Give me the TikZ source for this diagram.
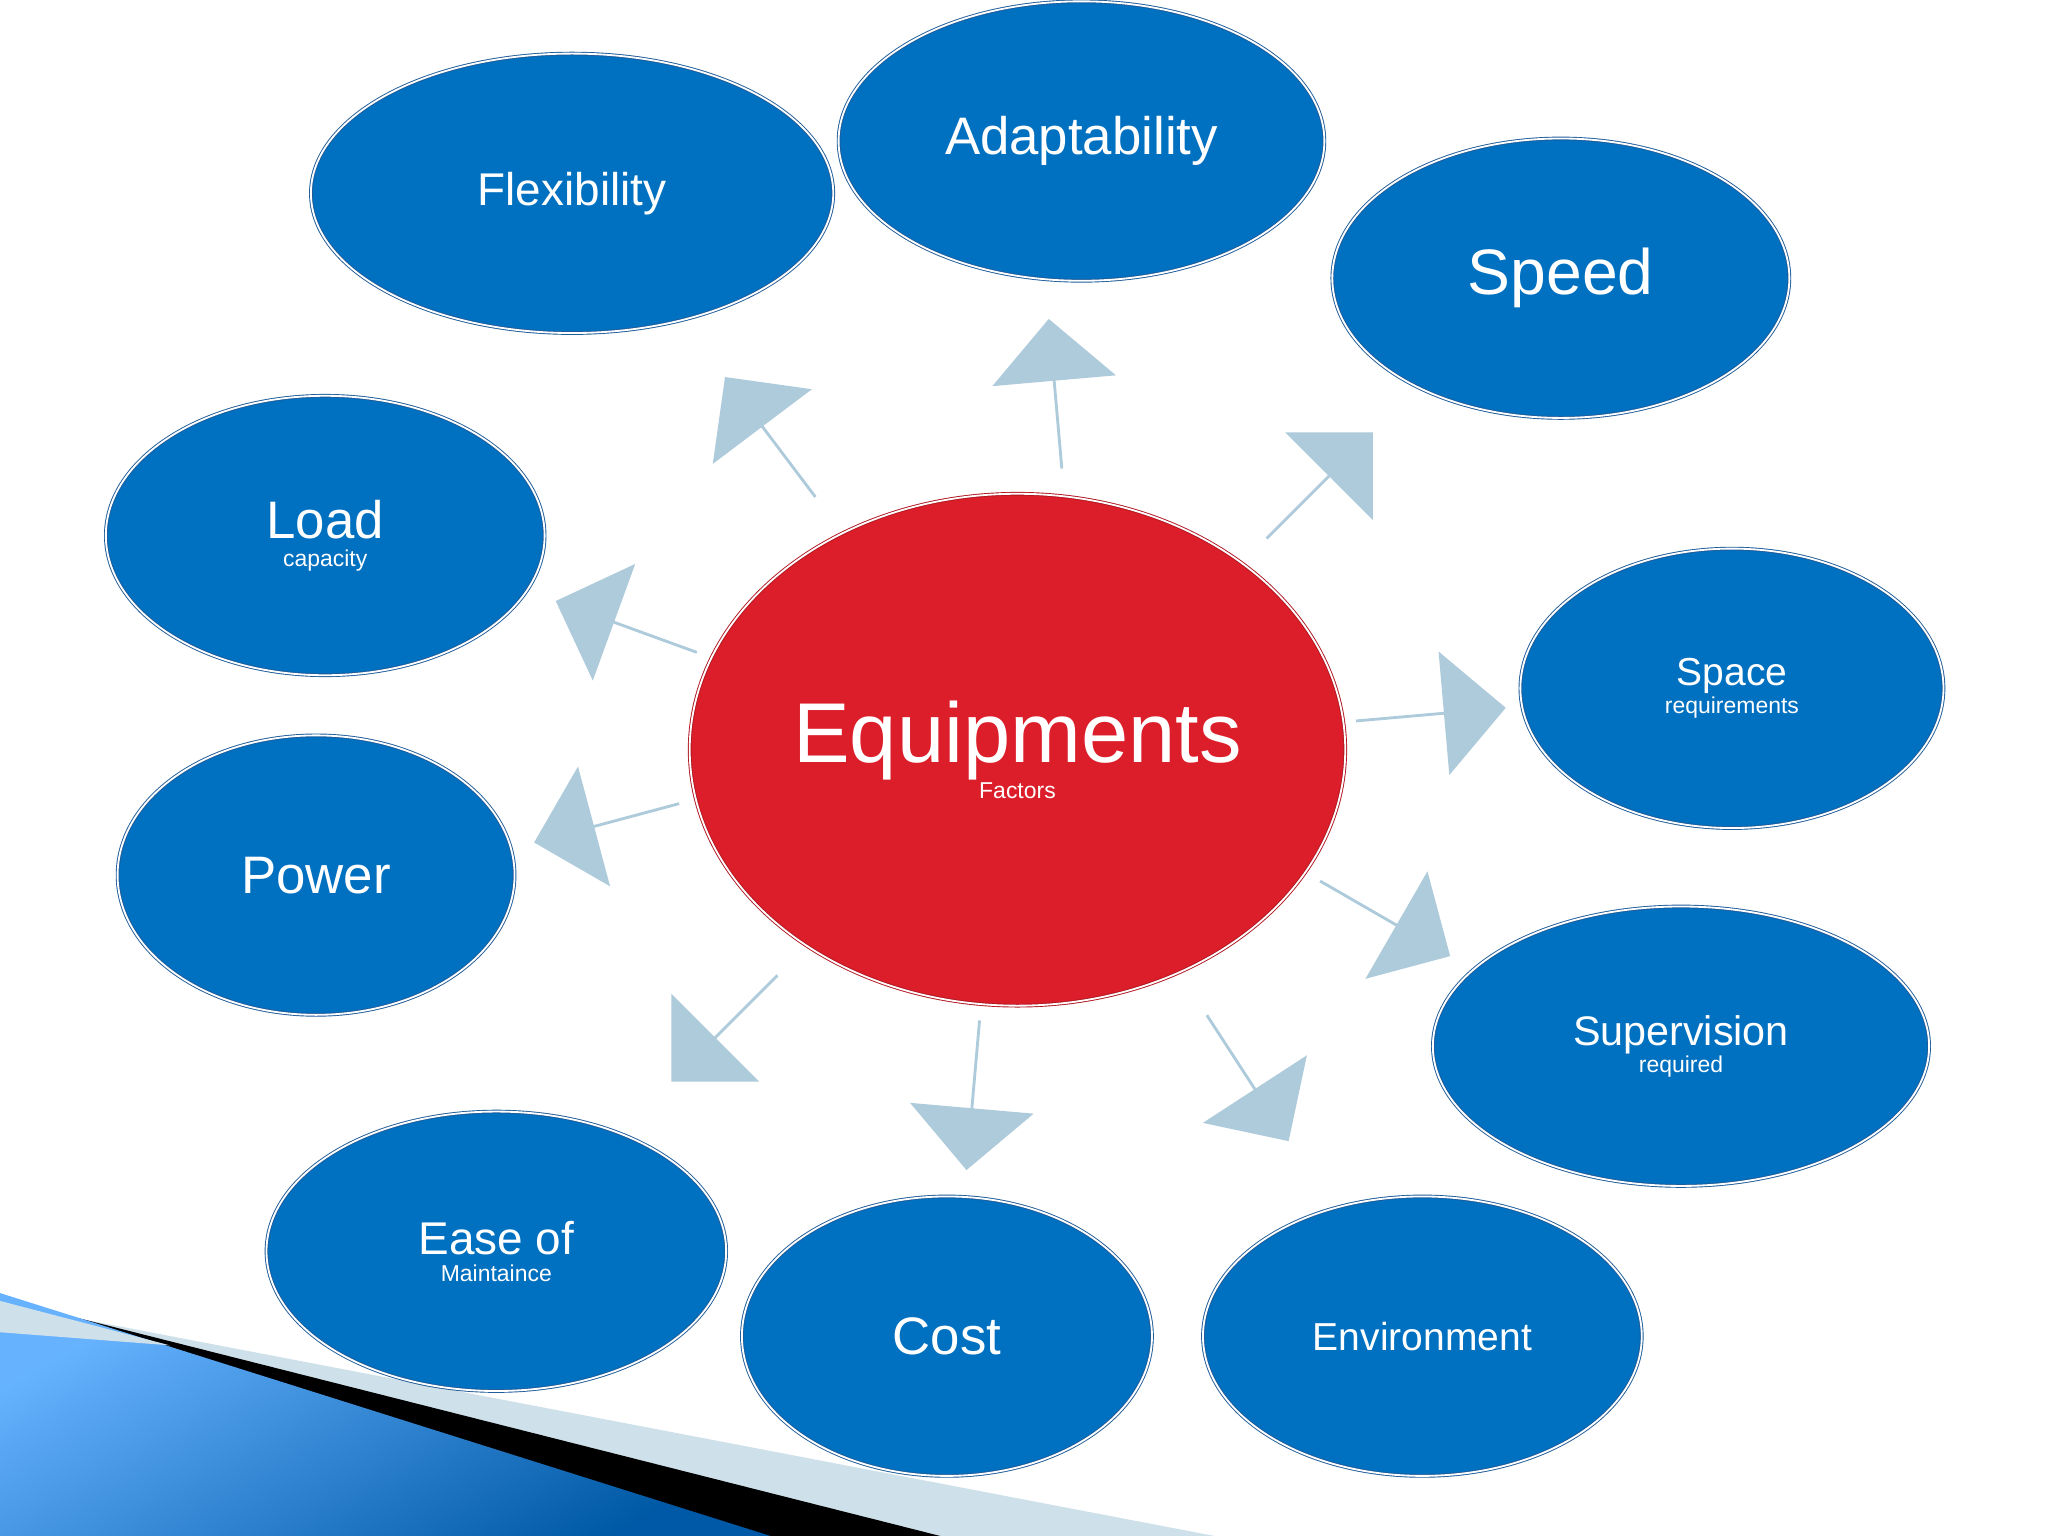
\documentclass[tikz,border=0pt]{standalone}
\usepackage{fontspec}
\setmainfont{Liberation Sans}
\usetikzlibrary{shapes.geometric,shapes.arrows}
\definecolor{eblue}{HTML}{0070C0}
\definecolor{eborder}{HTML}{1F5C99}
\definecolor{ered}{HTML}{DC1E2A}
\definecolor{arr}{HTML}{AECBDB}
\begin{document}
\begin{tikzpicture}[x=0.02cm,y=-0.02cm,
  fac/.style={ellipse,fill=eblue,draw=eborder,double=white,double distance=0.8pt,text=white,align=center,inner sep=0pt},
  blk/.style={single arrow,fill=arr,draw=none,minimum height=2.3cm,minimum width=1.9cm,single arrow head extend=0.3cm,inner sep=0pt}]
\useasboundingbox (0,0) rectangle (1568,1176);
\fill[white] (0,0) rectangle (1568,1176);
% bottom-left decoration
\fill[arr!60] (0,998) -- (930,1176) -- (0,1176) -- cycle;
\fill[black] (0,994) -- (720,1176) -- (0,1176) -- cycle;
\shade[left color=cyan!50!blue!60,right color=teal!70!blue,shading angle=30] (0,990) -- (590,1176) -- (0,1176) -- cycle;
\fill[arr!60] (0,996) -- (130,1030) -- (0,1020) -- cycle;
% ellipses
\node[fac,minimum width=10.04cm,minimum height=7.84cm,fill=ered,draw=ered!80!black] (c) at (779,574) {\fontsize{37}{38}\selectfont Equipments\\Factors};
\node[fac,minimum width=8cm,minimum height=4.28cm] (flex) at (438,148) {\fontsize{20}{22}\selectfont Flexibility};
\node[fac,minimum width=7.44cm,minimum height=4.28cm] (adap) at (828,108) {\fontsize{23}{25}\selectfont Adaptability};
\node[fac,minimum width=7cm,minimum height=4.28cm] (speed) at (1195,213) {\fontsize{28}{30}\selectfont Speed};
\node[fac,minimum width=6.72cm,minimum height=4.28cm] (load) at (249,410) {\fontsize{23}{23}\selectfont Load\\capacity};
\node[fac,minimum width=6.48cm,minimum height=4.28cm] (space) at (1326,527) {\fontsize{17}{18}\selectfont Space\\requirements};
\node[fac,minimum width=6.08cm,minimum height=4.28cm] (power) at (242,670) {\fontsize{23}{25}\selectfont Power};
\node[fac,minimum width=7.6cm,minimum height=4.28cm] (sup) at (1287,801) {\fontsize{18}{18}\selectfont Supervision\\required};
\node[fac,minimum width=7.04cm,minimum height=4.28cm] (ease) at (380,958) {\fontsize{20}{21}\selectfont Ease of\\Maintaince};
\node[fac,minimum width=6.28cm,minimum height=4.28cm] (cost) at (725,1023) {\fontsize{23}{25}\selectfont Cost};
\node[fac,minimum width=6.72cm,minimum height=4.28cm] (env) at (1089,1023) {\fontsize{17}{19}\selectfont Environment};
% arrows
\node[blk,rotate=127] (a1) at (590,335) {};
\node[blk,rotate=95] (a2) at (808,302) {};
\node[blk,rotate=45] (a3) at (1010,372) {};
\node[blk,rotate=160] (a4) at (480,480) {};
\node[blk,rotate=5] (a5) at (1095,547) {};
\node[blk,rotate=195] (a6) at (465,630) {};
\node[blk,rotate=-30] (a7) at (1060,703) {};
\node[blk,rotate=-135] (a8) at (555,787) {};
\node[blk,rotate=-95] (a9) at (745,838) {};
\node[blk,rotate=-57] (a10) at (955,825) {};
\end{tikzpicture}
\end{document}
